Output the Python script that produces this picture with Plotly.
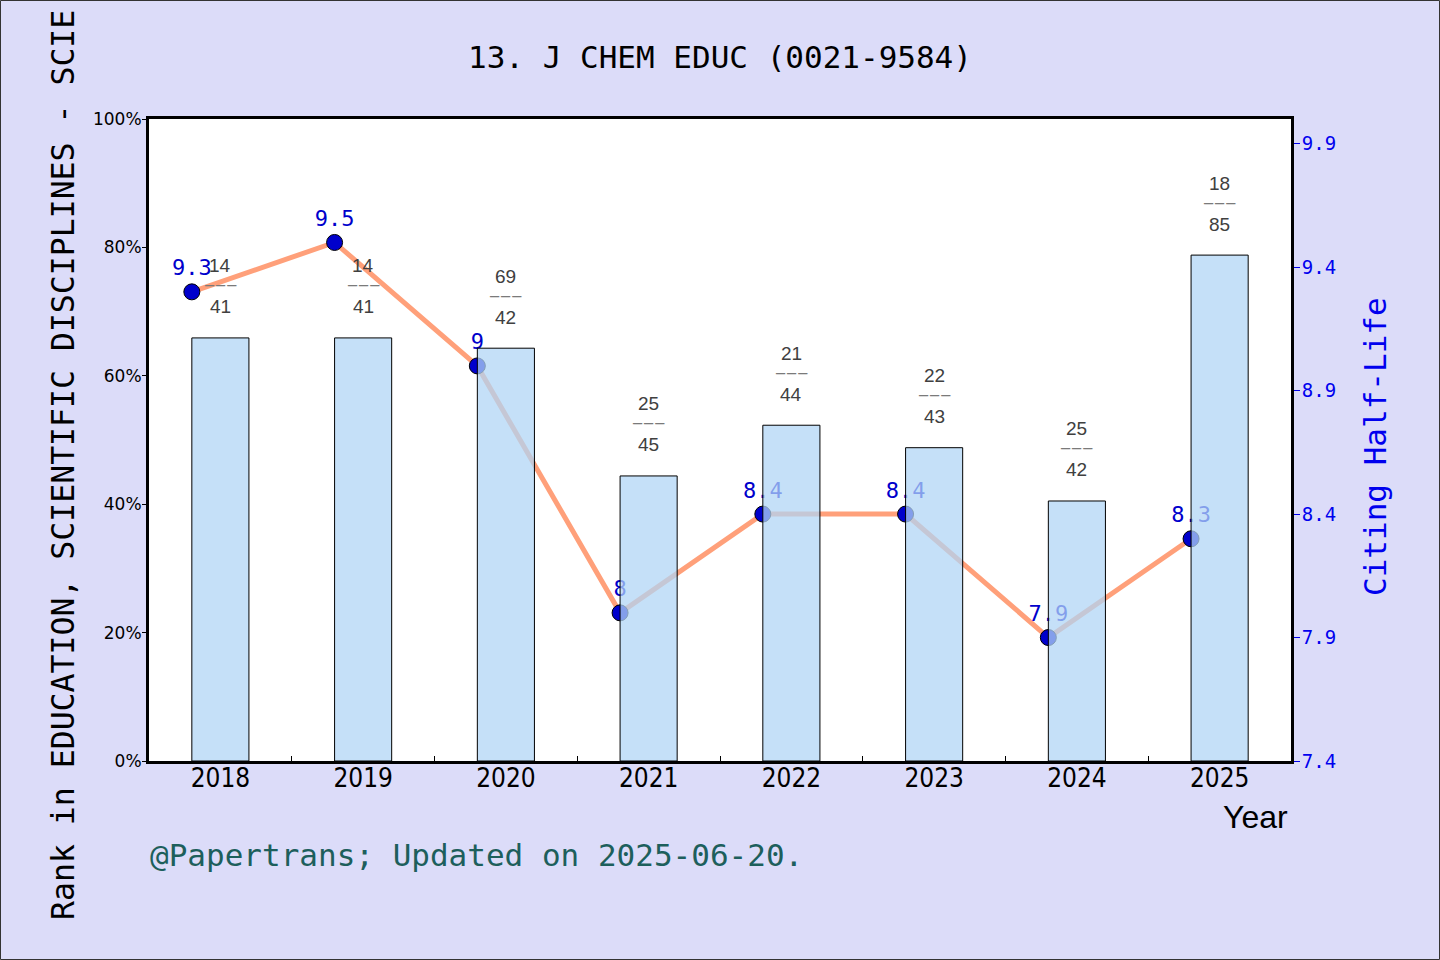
import plotly.graph_objects as go

# ---- data ----
years = ["2018", "2019", "2020", "2021", "2022", "2023", "2024", "2025"]
rank_pct = [0.659, 0.659, 0.643, 0.444, 0.523, 0.488, 0.405, 0.788]
rank_num = [14, 14, 69, 25, 21, 22, 25, 18]
rank_total = [41, 41, 42, 45, 44, 43, 42, 85]
half_life = [9.3, 9.5, 9.0, 8.0, 8.4, 8.4, 7.9, 8.3]
hl_ticks = [7.4, 7.9, 8.4, 8.9, 9.4, 9.9]
pct_ticks = [0.0, 0.2, 0.4, 0.6, 0.8, 1.0]

# ---- layout geometry (pixels) ----
W, H = 1440, 960
PL, PR, PT, PB = 149, 1291, 119, 761
BAR_W = 0.4
MONO = "DejaVu Sans Mono"
SANS = "Liberation Sans, Arial, sans-serif"
NARROW = "Liberation Sans Narrow, DejaVu Sans Condensed, Arial Narrow, sans-serif"


def px_x(px):
    return (px - PL) / (PR - PL)


def px_y(py):
    return (PB - py) / (PB - PT)


n = len(years)
xpos = list(range(n))
line_x = [i - BAR_W / 2 for i in xpos]

fig = go.Figure()

# half-life line (base subplot, drawn below bars)
fig.add_trace(go.Scatter(
    x=line_x, y=half_life, mode="lines+markers+text",
    text=[f"{v:g}" for v in half_life], textposition="top center",
    textfont=dict(family=MONO, size=22, color="#0000cc"),
    line=dict(color="#ffa07a", width=5),
    marker=dict(size=16, color="#0000cc", line=dict(color="black", width=1)),
    xaxis="x", yaxis="y", showlegend=False, cliponaxis=False,
))

# rank bars (overlay subplot, drawn above the line)
fig.add_trace(go.Bar(
    x=xpos, y=rank_pct, width=BAR_W,
    marker=dict(color="rgba(177,213,245,0.74)", line=dict(color="black", width=1)),
    xaxis="x", yaxis="y2", showlegend=False,
))

annotations = []
for i in range(n):
    for txt, shift, col in ((str(rank_num[i]), 72, "#404040"),
                            ("\u2212\u2212\u2212", 52, "#7a7a7a"),
                            (str(rank_total[i]), 31, "#404040")):
        annotations.append(dict(
            x=xpos[i], y=rank_pct[i], xref="x", yref="y2", text=txt,
            showarrow=False, yanchor="middle", xanchor="center", yshift=shift,
            font=dict(family=SANS, size=19, color=col),
        ))

annotations += [
    dict(text="Rank in EDUCATION, SCIENTIFIC DISCIPLINES - SCIE", textangle=-90,
         xref="paper", yref="paper", x=px_x(63), y=px_y(465),
         xanchor="center", yanchor="middle", showarrow=False,
         font=dict(family=MONO, size=31.5, color="black")),
    dict(text="Citing Half-Life", textangle=-90,
         xref="paper", yref="paper", x=px_x(1375), y=px_y(447),
         xanchor="center", yanchor="middle", showarrow=False,
         font=dict(family=MONO, size=31, color="#0000ee")),
    dict(text="Year", xref="paper", yref="paper", x=px_x(1290), y=px_y(817),
         xanchor="right", yanchor="middle", showarrow=False,
         font=dict(family=SANS, size=32, color="black")),
    dict(text="@Papertrans; Updated on 2025-06-20.", xref="paper", yref="paper",
         x=px_x(148), y=px_y(855), xanchor="left", yanchor="middle", showarrow=False,
         font=dict(family=MONO, size=31, color="#1d5f5c")),
]

fig.update_layout(
    width=W, height=H,
    margin=dict(l=PL, r=W - PR, t=PT, b=H - PB, pad=0),
    paper_bgcolor="#dcdcf9", plot_bgcolor="white",
    title=dict(text="13. J CHEM EDUC (0021-9584)", x=0.5, xanchor="center",
               y=1 - 57 / H, yanchor="middle", yref="container",
               font=dict(family=MONO, size=31, color="black")),
    xaxis=dict(range=[-0.5, n - 0.5], tickmode="array", tickvals=xpos, ticktext=years,
               ticks="", showgrid=False, zeroline=False, ticklabelstandoff=-8,
               showline=True, linewidth=3, linecolor="black", mirror=True,
               tickfont=dict(family=NARROW, size=26, color="black"),
               minor=dict(tickmode="array", tickvals=[i + 0.5 for i in xpos[:-1]],
                          ticks="inside", ticklen=5, tickwidth=1, tickcolor="black")),
    yaxis=dict(range=[7.4, 10.0], side="right", tickmode="array", tickvals=hl_ticks,
               ticktext=[f"{v:.1f}" for v in hl_ticks], ticklabelstandoff=-2,
               ticks="outside", ticklen=6, tickwidth=1, tickcolor="#0000ee",
               tickfont=dict(family=MONO, size=19, color="#0000ee"),
               showgrid=False, zeroline=False,
               showline=True, linewidth=3, linecolor="black", mirror=True),
    yaxis2=dict(range=[0, 1], overlaying="y", side="left", tickmode="array",
                tickvals=pct_ticks, tickformat=".0%", ticklabelstandoff=-3,
                ticks="outside", ticklen=6, tickwidth=1, tickcolor="black",
                tickfont=dict(family="DejaVu Sans, Verdana, sans-serif", size=17, color="black"),
                showgrid=False, zeroline=False, showline=False),
    annotations=annotations,
    shapes=[dict(type="rect", xref="paper", yref="paper",
                 x0=px_x(0.5), x1=px_x(W - 0.5), y0=px_y(H - 0.5), y1=px_y(0.5),
                 line=dict(color="#333333", width=1), layer="below")],
    showlegend=False,
)

fig.write_html("out.html")
